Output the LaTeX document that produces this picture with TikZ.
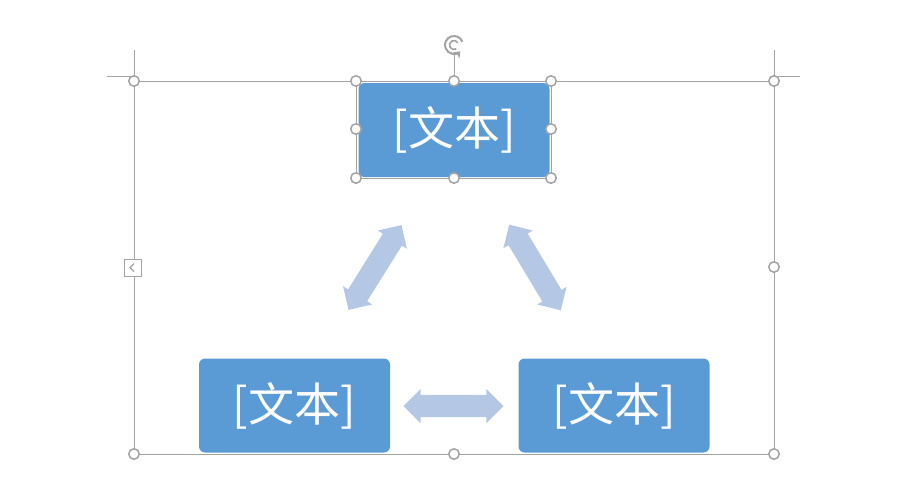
\documentclass[tikz,border=0pt]{standalone}
\usepackage{fontspec}
\newfontfamily\cjk{Noto Sans CJK SC}
\usetikzlibrary{arrows.meta,positioning,shapes.arrows}
\definecolor{boxblue}{HTML}{5B9BD5}
\definecolor{arrowblue}{HTML}{B4C8E6}
\definecolor{framegray}{HTML}{A3A3A3}

\begin{document}
\begin{tikzpicture}[x=1pt,y=-1pt,
  textbox/.style={fill=boxblue, rounded corners=6pt, text=white,
    minimum width=191pt, minimum height=94pt, inner sep=0pt,
    font=\cjk\fontsize{46}{46}\selectfont},
  dblarrow/.style={double arrow, fill=arrowblue, inner sep=11pt,
    minimum height=100pt, double arrow head extend=6pt},
  handle/.style={circle, draw=framegray, fill=white, line width=1.5pt,
    minimum size=10.5pt, inner sep=0pt},
  frameline/.style={draw=framegray, line width=1pt}]
\useasboundingbox (0,0) rectangle (905,493);

% selection frame of the whole graphic
\draw[frameline] (134,81) rectangle (774,454);
\draw[frameline] (107,76) -- (134,76) (774,76) -- (800,76);
\draw[frameline] (134,50) -- (134,81) (774,50) -- (774,81);

% the three boxes
\node[textbox] (top) at (454,130) {[文本]};
\node[textbox] (left) at (294.5,405.5) {[文本]};
\node[textbox] (right) at (614,405.5) {[文本]};

% arrows between them
\node[dblarrow, rotate=58] (a1) at (375,267.5) {};
\node[dblarrow, rotate=-59] (a2) at (535,267.5) {};
\node[dblarrow] (a3) at (453.5,406) {};

% selection of the top box
\draw[frameline] (356,81) rectangle (551,178);
\draw[frameline] (454,55) -- (454,81);
\coordinate (rot) at (454,45);
\draw[framegray, line width=2pt, -{Stealth[length=6pt,width=9pt]}]
  (rot) ++(-20:9) arc[start angle=-20, end angle=-315, radius=9];
\draw[framegray, line width=1.6pt]
  (rot) ++(-30:4.5) arc[start angle=-30, end angle=-300, radius=4.5];

% handles
\foreach \hx/\hy in {134/81, 774/81, 134/454, 454/454, 774/454, 774/267,
  356/81, 454/81, 551/81, 356/129, 551/129, 356/178, 454/178, 551/178}
  \node[handle] at (\hx,\hy) {};

% side tab
\draw[framegray, fill=white, line width=0.8pt] (124,259) rectangle (141,276);
\draw[framegray, line width=1.3pt] (134,263.5) -- (130,267.5) -- (134,271.5);
\end{tikzpicture}
\end{document}
